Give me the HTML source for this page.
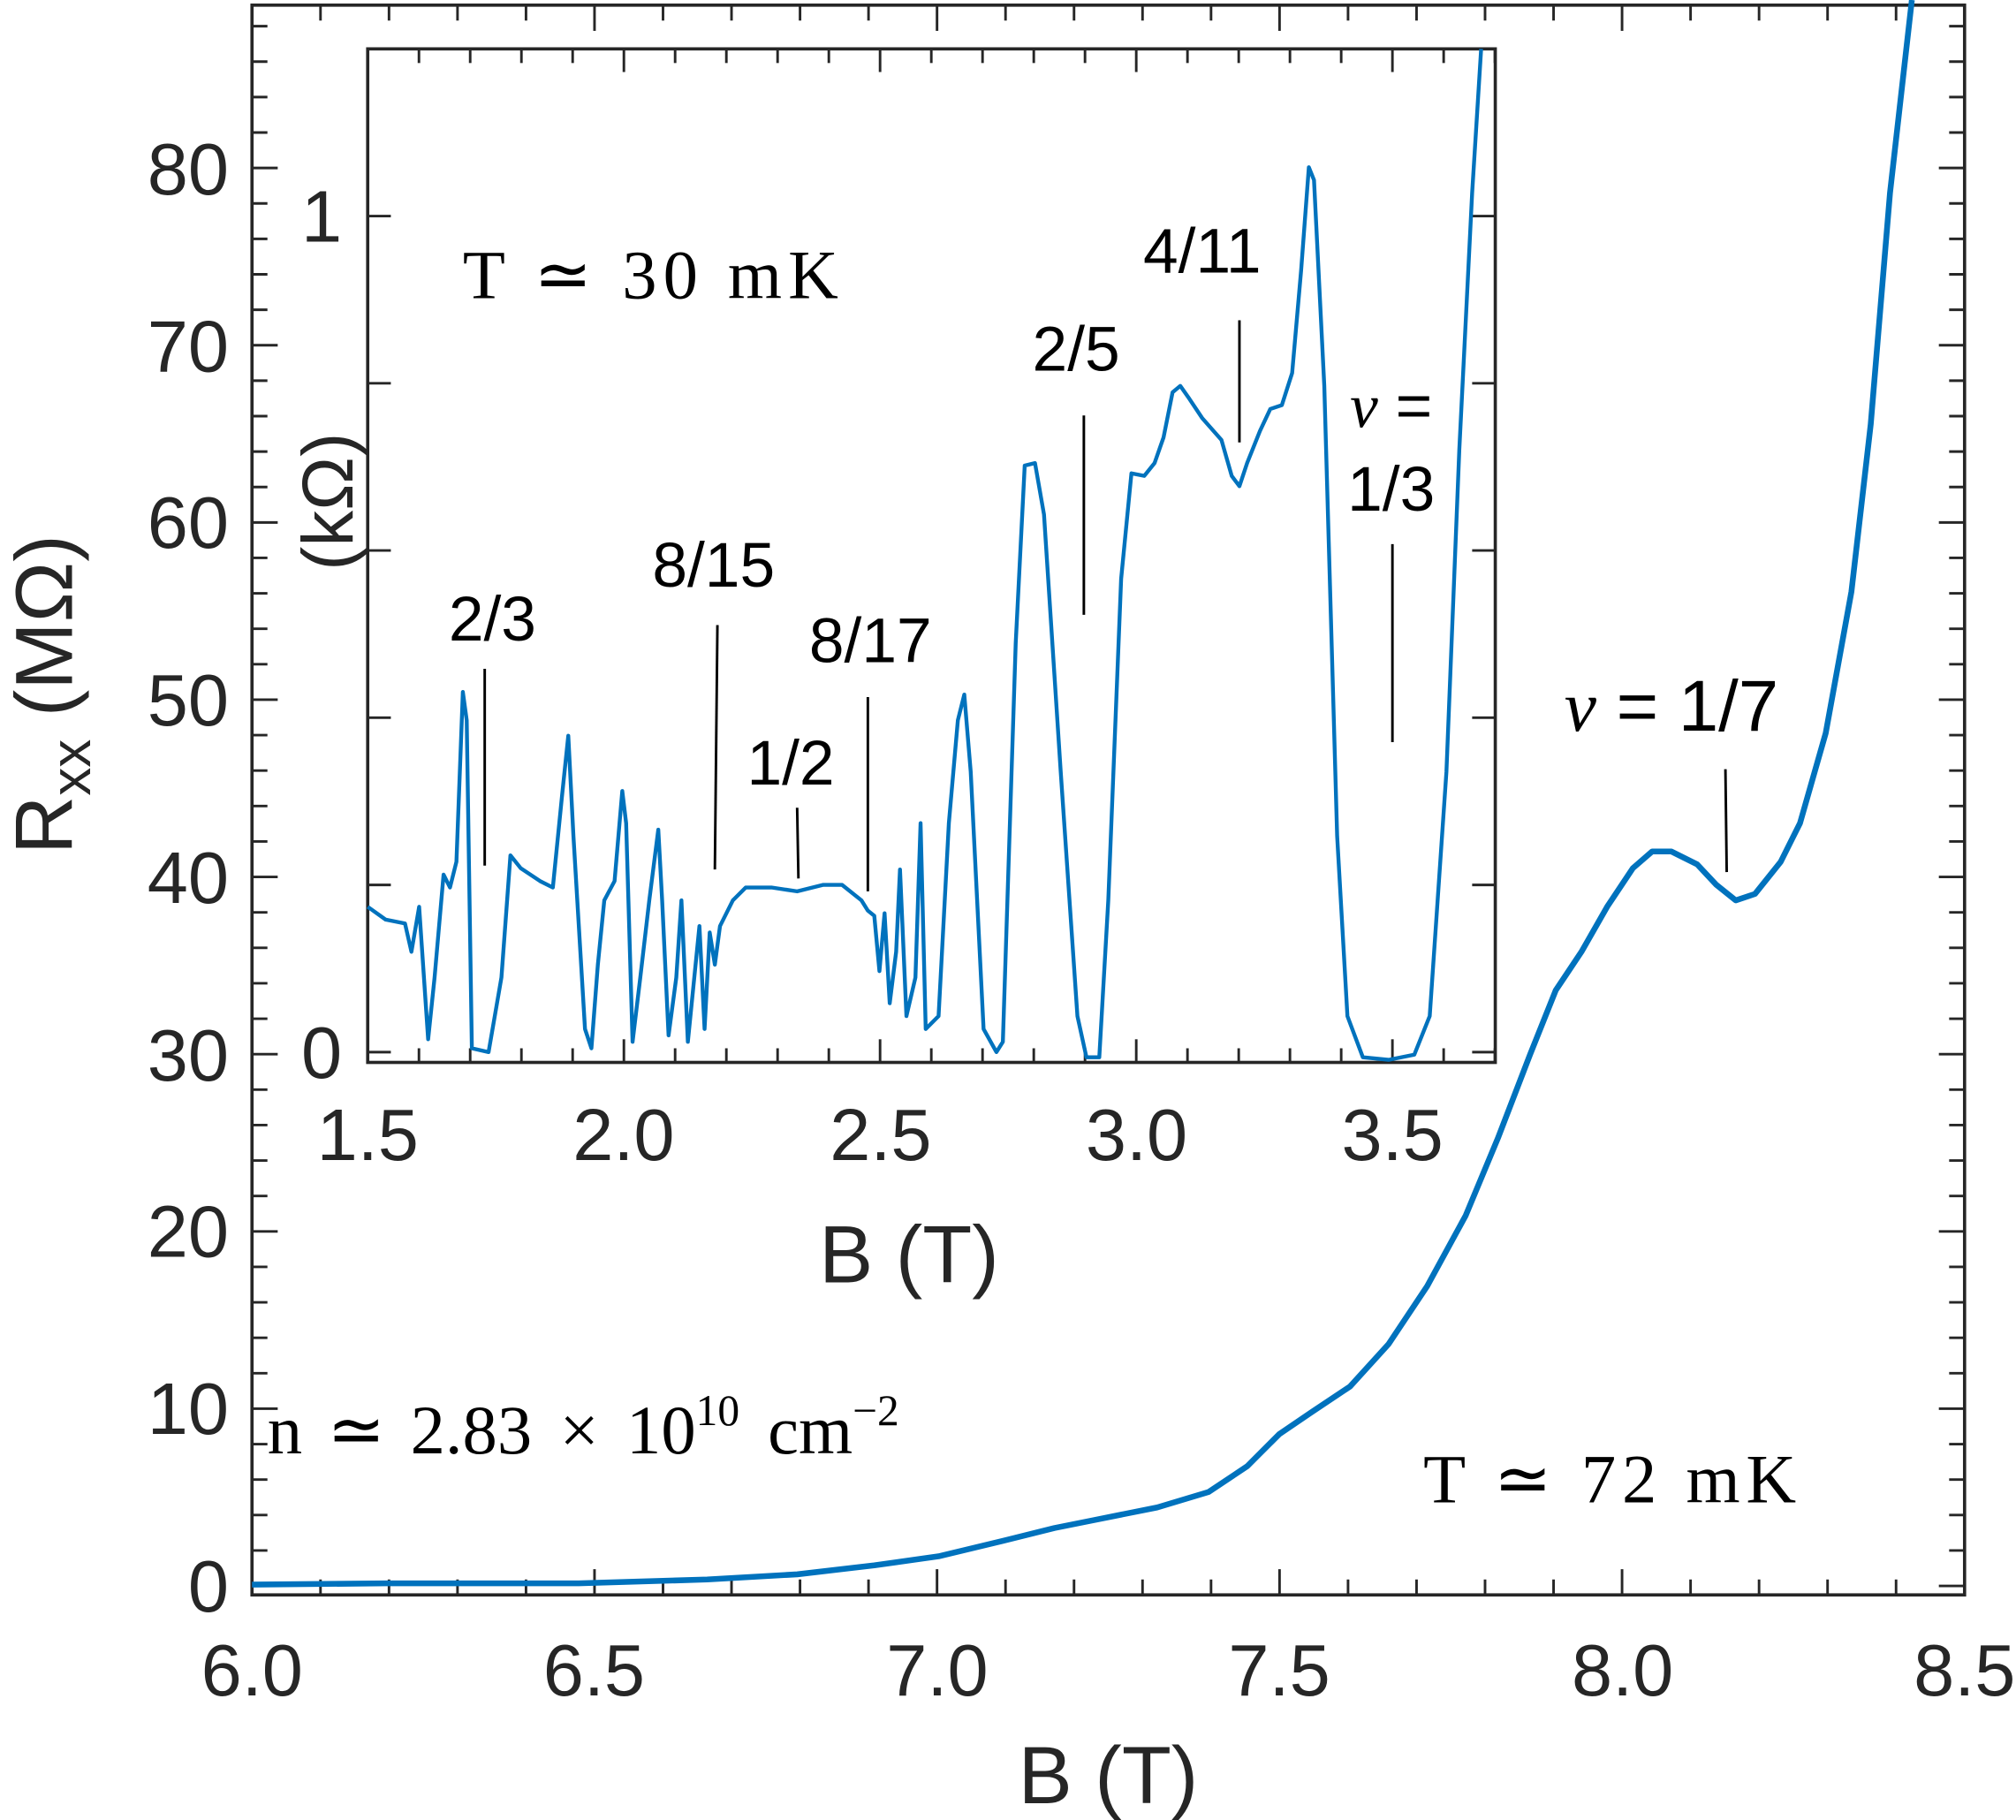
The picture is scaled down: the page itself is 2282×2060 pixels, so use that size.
<!DOCTYPE html>
<html><head><meta charset="utf-8"><style>
html,body{margin:0;padding:0;background:#fff;}
svg{display:block;}
text{font-family:"Liberation Sans",sans-serif;fill:#262626;}
.s{font-family:"Liberation Serif",serif;fill:#000;}
.a{fill:#000;}
</style></head><body>
<svg id="g" width="2282" height="2060" viewBox="0 0 1568 1415" preserveAspectRatio="none" xmlns="http://www.w3.org/2000/svg">
<g id="ticks" stroke="#262626" stroke-width="2"></g>
<rect x="196" y="4" width="1332" height="1236" fill="none" stroke="#262626" stroke-width="2.5"/>
<polyline fill="none" stroke="#0072BD" stroke-width="4.5" stroke-linejoin="round" points="196,1232 300,1231 450,1231 550,1228 620,1224 680,1217 730,1210 780,1198 820,1188 850,1182 900,1172 940,1160 970,1140 995,1115 1020,1098 1050,1078 1080,1045 1110,1000 1140,945 1165,885 1190,820 1210,770 1230,740 1250,705 1270,675 1285,662 1300,662 1320,672 1335,688 1350,700 1365,695 1385,670 1400,640 1420,570 1440,460 1455,330 1470,150 1487,0"/>
<rect x="286" y="38" width="877" height="788" fill="#fff" stroke="#262626" stroke-width="2.5"/>
<g id="iticks" stroke="#262626" stroke-width="2"></g>
<polyline fill="none" stroke="#0072BD" stroke-width="3" stroke-linejoin="round" points="286,705 300,715 315,718 320,740 326,705 333,808 338,760 345,680 350,690 355,670 360,538 363,560 367,815 380,818 390,760 397,665 405,675 420,685 430,690 437,620 442,572 446,650 455,800 460,815 465,750 470,700 478,685 484,615 487,640 492,810 498,760 505,700 512,645 515,700 520,805 526,760 530,700 535,810 540,760 544,720 548,800 552,725 556,750 560,720 570,700 580,690 600,690 620,693 640,688 655,688 670,700 675,708 680,712 684,755 688,710 692,780 697,740 700,676 705,790 712,760 716,640 720,800 730,790 738,640 745,560 750,540 755,600 765,800 775,818 780,810 790,500 797,362 805,360 812,400 825,600 838,790 845,822 855,822 862,700 872,450 880,368 890,370 898,360 905,340 912,305 918,300 925,310 935,325 950,342 958,370 964,378 970,360 980,335 988,318 997,315 1005,290 1012,210 1018,130 1022,140 1030,300 1040,650 1048,790 1060,822 1080,824 1100,820 1112,790 1125,600 1135,350 1145,150 1152,38"/>
<g stroke="#000" stroke-width="2">
<line x1="377" y1="520" x2="377" y2="673"/><line x1="558" y1="486" x2="556" y2="676"/>
<line x1="620" y1="628" x2="621" y2="683"/><line x1="675" y1="542" x2="675" y2="693"/>
<line x1="843" y1="323" x2="843" y2="478"/><line x1="964" y1="249" x2="964" y2="344"/>
<line x1="1083" y1="423" x2="1083" y2="577"/><line x1="1342" y1="598" x2="1343" y2="678"/>
</g>
<g class="a" font-size="49" text-anchor="middle">
<text class="a" x="383" y="498">2/3</text><text class="a" x="555" y="456">8/15</text>
<text class="a" x="615" y="610">1/2</text><text class="a" x="677" y="515">8/17</text>
<text class="a" x="837" y="288">2/5</text><text class="a" x="935" y="212">4/11</text>
<text class="a" x="1082" y="397">1/3</text>
<text class="a" x="1082" y="332"><tspan class="s" font-style="italic">ν</tspan> =</text>
</g>
<text class="a" x="1300" y="568" font-size="56" text-anchor="middle"><tspan class="s" font-style="italic">ν</tspan> = 1/7</text>
<text class="s" x="360" y="232" font-size="54" textLength="292" lengthAdjust="spacing">T ≃ 30 mK</text>
<text class="s" x="1107" y="1168" font-size="54" textLength="290" lengthAdjust="spacing">T ≃ 72 mK</text>
<text class="s" x="208" y="1130" font-size="54">n <tspan dx="6">≃</tspan> <tspan dx="6">2.83</tspan> <tspan dx="8">×</tspan> <tspan dx="8">10</tspan><tspan font-size="34" dy="-22">10</tspan><tspan dy="22" dx="22">cm</tspan><tspan font-size="34" dy="-22">−2</tspan></text>
<g font-size="57" text-anchor="middle">
<text x="286" y="902">1.5</text><text x="485" y="902">2.0</text><text x="685" y="902">2.5</text><text x="884" y="902">3.0</text><text x="1083" y="902">3.5</text>
<text x="196" y="1318">6.0</text><text x="462" y="1318">6.5</text><text x="729" y="1318">7.0</text><text x="995" y="1318">7.5</text><text x="1262" y="1318">8.0</text><text x="1528" y="1318">8.5</text>
</g>
<text x="707" y="997" font-size="63" text-anchor="middle">B (T)</text>
<text x="862" y="1402" font-size="63" text-anchor="middle">B (T)</text>
<g font-size="57" text-anchor="end">
<text x="266" y="188">1</text><text x="266" y="838">0</text>
<text x="178" y="1253">0</text><text x="178" y="1115">10</text><text x="178" y="977">20</text><text x="178" y="840">30</text><text x="178" y="702">40</text><text x="178" y="564">50</text><text x="178" y="426">60</text><text x="178" y="289">70</text><text x="178" y="151">80</text>
</g>
<text x="0" y="0" font-size="56" text-anchor="middle" transform="translate(274,390) rotate(-90)">(kΩ)</text>
<text x="0" y="0" font-size="63" text-anchor="middle" transform="translate(56,540) rotate(-90)">R<tspan font-size="44" dy="14">xx</tspan><tspan dy="-14"> (MΩ)</tspan></text>
</svg>
<script>
var ns="http://www.w3.org/2000/svg";
function L(g,x1,y1,x2,y2){var l=document.createElementNS(ns,"line");l.setAttribute("x1",x1);l.setAttribute("y1",y1);l.setAttribute("x2",x2);l.setAttribute("y2",y2);g.appendChild(l);}
var g=document.getElementById("ticks");
for(var i=0;i<=25;i++){var x=196+i*53.28,len=(i%5==0)?20:12;L(g,x,1240,x,1240-len);L(g,x,4,x,4+len);}
for(var v=0;v<=88;v+=2){var y=1233-v*13.78,len=(v%10==0)?20:12;L(g,196,y,196+len,y);L(g,1528,y,1528-len,y);}
var h=document.getElementById("iticks");
for(var i=0;i<=22;i++){var x=286+i*39.85,len=(i%5==0)?18:11;L(h,x,826,x,826-len);L(h,x,38,x,38+len);}
for(var k=0;k<=6;k++){var y=818-k*130;L(h,286,y,304,y);L(h,1163,y,1145,y);}
</script>
</body></html>
